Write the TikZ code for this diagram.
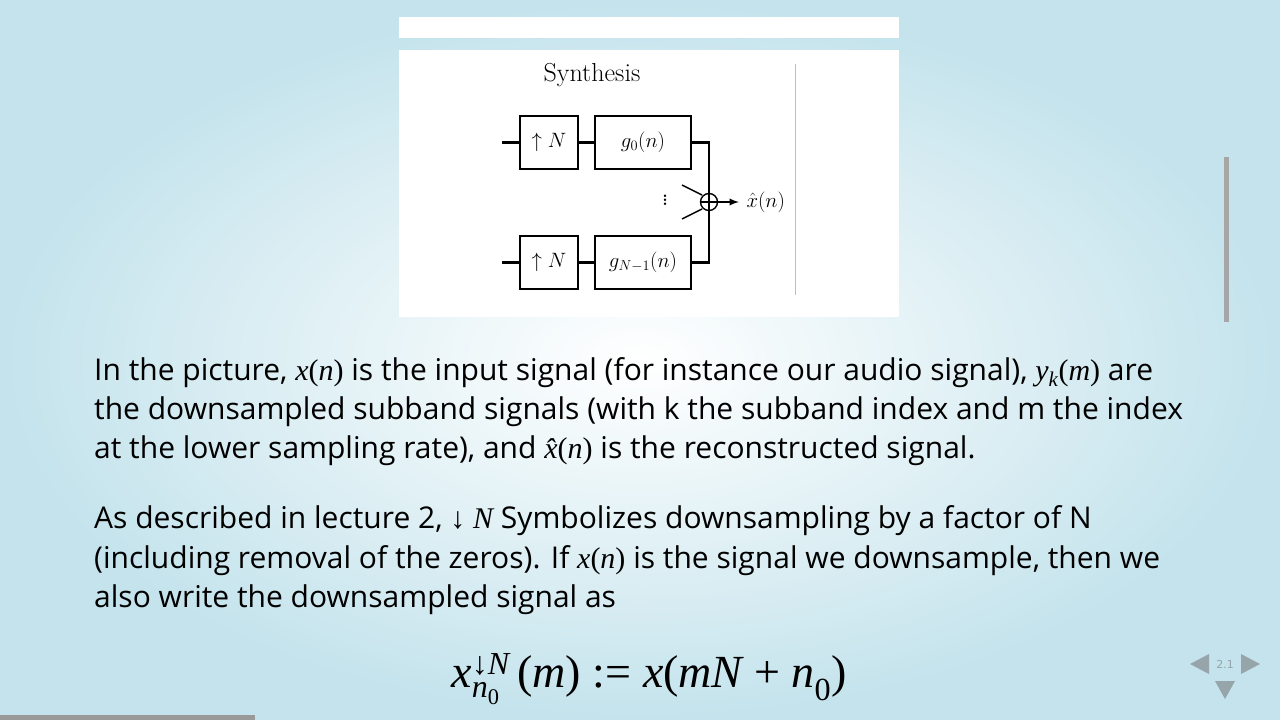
\documentclass[tikz,border=0pt]{standalone}
\usepackage{fontspec}
\setmainfont{Open Sans}
\newfontfamily\navfont{DejaVu Sans}
\newfontfamily\mathserif{Liberation Serif}
\newcommand{\mv}[1]{{\mathserif\itshape #1}}
\newcommand{\mr}[1]{{\mathserif #1}}
\usetikzlibrary{positioning}
\definecolor{slidebg}{RGB}{196,227,236}
\definecolor{navgray}{RGB}{150,165,170}
\tikzset{
  blockbox/.style={draw, line width=2.2pt, minimum height=53pt, inner sep=0pt, font=\fontfamily{lmr}\fontsize{20}{24}\selectfont},
  para/.style={anchor=base west, inner sep=0pt, font=\fontsize{30}{40}\selectfont},
  wire/.style={line width=2.2pt},
}
\begin{document}
\begin{tikzpicture}[x=1pt,y=-1pt]
        \useasboundingbox (0,0) rectangle (1280,720);
        \shade[inner color=white, outer color=slidebg] (0,0) rectangle (1280,720);

        % figure panel
        \fill[white] (399,17) rectangle (899,38);
        \fill[white] (399,50) rectangle (899,317);
        \draw[gray!50] (795,64) -- (795,295);
        \node (title) at (592,75) {\fontfamily{lmr}\fontsize{26}{30}\selectfont Synthesis};

        \node[blockbox, minimum width=58pt] (up0) at (549,142.5) {$\uparrow N$};
        \node[blockbox, minimum width=96pt] (g0) at (643,142.5) {$g_0(n)$};
        \node[blockbox, minimum width=58pt] (up1) at (549,262.5) {$\uparrow N$};
        \node[blockbox, minimum width=96pt] (g1) at (643,262.5) {$g_{N-1}(n)$};
        \coordinate (in0) at (502,142.5);
        \coordinate (in1) at (502,262.5);
        \node[draw, circle, line width=1.4pt, minimum size=17pt, inner sep=0pt] (sum) at (709,202) {};
        \coordinate (out) at (739,202);
        \node[right=4pt of out] (xhat) {\fontfamily{lmr}\fontsize{20}{24}\selectfont$\hat{x}(n)$};
        \node[font=\fontfamily{lmr}\fontsize{30}{32}\selectfont] (dots) at (665,197) {$\vdots$};
        \coordinate (d0) at (682,185);
        \coordinate (e0) at (702,195);
        \coordinate (d1) at (682,219);
        \coordinate (e1) at (702,209);

        \draw[wire] (in0) -- (up0) (up0) -- (g0);
        \draw[wire] (in1) -- (up1) (up1) -- (g1);
        \draw[wire] (g0.east) -| (sum.north) -- (sum.south) |- (g1.east);
        \draw[wire] (sum.west) -- (sum.east);
        \draw[wire, -latex] (sum.east) -- (out);
        \draw[line width=1.4pt] (d0) -- (e0);
        \draw[line width=1.4pt] (d1) -- (e1);

        % slide text
        \node[para] (p1) at (94,380) {In the picture, \mv{x}\mr{(}\mv{n}\mr{)} is the input signal (for instance our audio signal), \mv{y}\textsubscript{\mv{k}}\mr{(}\mv{m}\mr{)} are};
        \node[para] (p2) at (94,419) {the downsampled subband signals (with k the subband index and m the index};
        \node[para] (p3) at (94,458) {at the lower sampling rate), and \mv{x̂}\mr{(}\mv{n}\mr{)} is the reconstructed signal.};
        \node[para] (p4) at (94,528) {As described in lecture 2, \mr{↓} \mv{N} Symbolizes downsampling by a factor of N};
        \node[para] (p5) at (94,568) {(including removal of the zeros). If \mv{x}\mr{(}\mv{n}\mr{)} is the signal we downsample, then we};
        \node[para] (p6) at (94,607) {also write the downsampled signal as};
        \node (formula) at (649,679) {\fontsize{46}{52}\selectfont\mv{x}$^{\raisebox{4pt}{\fontsize{32}{34}\selectfont\mr{↓}\mv{N}}}_{\raisebox{-4pt}{\fontsize{32}{34}\selectfont\mv{n}\mr{\textsubscript{0}}}}$\mr{\,(}\mv{m}\mr{) := }\mv{x}\mr{(}\mv{mN}\mr{ + }\mv{n}\mr{\textsubscript{0})}};

        % slide controls
        \fill[gray!70] (1224,157) rectangle (1229,322);
        \fill[gray!80] (0,715) rectangle (255,720);
        \node[text=navgray] (nav) at (1225,664) {\navfont\fontsize{11}{12}\selectfont 2.1};
        \fill[navgray] (1190,664) -- (1209,654) -- (1209,674) -- cycle;
        \fill[navgray] (1260,664) -- (1241,654) -- (1241,674) -- cycle;
        \fill[navgray] (1225,699) -- (1215,681) -- (1235,681) -- cycle;
      \end{tikzpicture}
\end{document}
